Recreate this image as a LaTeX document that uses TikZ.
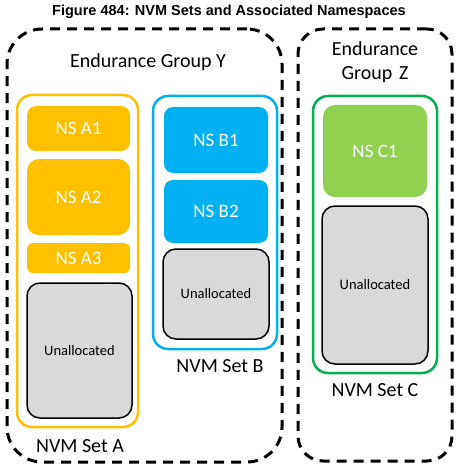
\documentclass[tikz,border=0pt]{standalone}
\usepackage{fontspec}
\setmainfont{Carlito}
\newfontfamily\titlefont{Liberation Sans}
\usepackage{xcolor}
\usepackage{tikz}
\usetikzlibrary{positioning}
\definecolor{setorange}{HTML}{FFC000}
\definecolor{setblue}{HTML}{00B0F0}
\definecolor{setgreen}{HTML}{00B050}
\definecolor{nsgreen}{HTML}{92D050}
\definecolor{freegray}{HTML}{D9D9D9}
\tikzstyle{group} = [rectangle, draw, line width=3pt, dash pattern=on 10pt off 7pt,
    rounded corners=35pt, inner sep=0pt]
\tikzstyle{nvmset} = [rectangle, draw, line width=2.5pt, rounded corners=15pt, inner sep=0pt]
\tikzstyle{ns} = [rectangle, rounded corners=9pt, text=white, font=\fontsize{19}{22}\selectfont,
    minimum width=104pt, inner sep=0pt]
\tikzstyle{unalloc} = [rectangle, draw, line width=1.5pt, fill=freegray, rounded corners=13pt,
    font=\fontsize{14.5}{17}\selectfont, minimum width=106pt, inner sep=0pt]
\tikzstyle{caption} = [font=\fontsize{20}{24}\selectfont, align=center]

\begin{document}
\begin{tikzpicture}[x=1pt, y=-1pt]
                \useasboundingbox (0,0) rectangle (460,473);
                % Title
                \node [font=\titlefont\bfseries\fontsize{14.5}{17}\selectfont] (title) at (229,12)
                    {Figure 484: NVM Sets and Associated Namespaces};

                % Endurance groups
                \node [group, minimum width=275pt, minimum height=433pt] (groupY) at (144.5,245.5) {};
                \node [group, rounded corners=25pt, minimum width=154pt, minimum height=432pt] (groupZ) at (375,245) {};
                \node [caption] (labelY) at (148,62) {Endurance Group Y};
                \node [caption, text width=150pt] (labelZ) at (375,62) {Endurance\\Group Z};

                % NVM Set A
                \node [nvmset, draw=setorange, minimum width=121pt, minimum height=332pt] (setA) at (77.5,261) {};
                \node [ns, fill=setorange, minimum width=103pt, minimum height=45pt] (A1) at (78.5,128.5) {NS A1};
                \node [ns, fill=setorange, minimum width=103pt, minimum height=76pt, rounded corners=12pt] (A2) at (78.5,197) {NS A2};
                \node [ns, fill=setorange, minimum width=103pt, minimum height=30pt, rounded corners=6pt] (A3) at (78.5,258) {NS A3};
                \node [unalloc, minimum width=105pt, minimum height=135pt] (freeA) at (79.5,350.5) {Unallocated};
                \node [caption] (labelA) at (80,446) {NVM Set A};

                % NVM Set B
                \node [nvmset, draw=setblue, minimum width=124pt, minimum height=253pt] (setB) at (215,222.5) {};
                \node [ns, fill=setblue, minimum height=66pt] (B1) at (216,140) {NS B1};
                \node [ns, fill=setblue, minimum height=63pt] (B2) at (216,211.5) {NS B2};
                \node [unalloc, minimum height=90pt] (freeB) at (216,294) {Unallocated};
                \node [caption] (labelB) at (220,366) {NVM Set B};

                % NVM Set C
                \node [nvmset, draw=setgreen, minimum width=124pt, minimum height=277pt] (setC) at (375,234.5) {};
                \node [ns, fill=nsgreen, minimum height=92pt, rounded corners=12pt] (C1) at (375,151) {NS C1};
                \node [unalloc, minimum height=158pt] (freeC) at (375,285) {Unallocated};
                \node [caption] (labelC) at (375,390) {NVM Set C};
\end{tikzpicture}
\end{document}
